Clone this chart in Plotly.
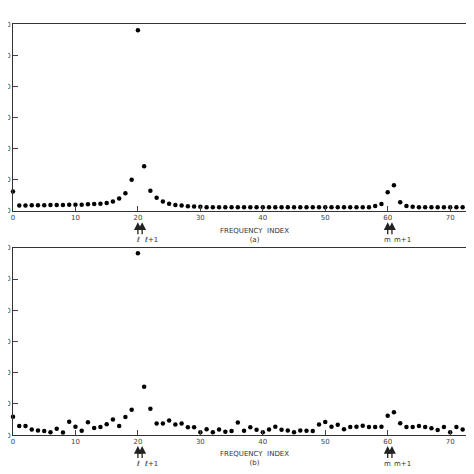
import plotly.graph_objects as go

freq = list(range(0, 75))
top_vals = [62, 17, 17, 18, 18, 18, 19, 19, 19, 20, 20, 20, 21, 22, 23, 25, 30, 40, 57, 100,
            580, 143, 65, 42, 30, 23, 19, 17, 15, 14, 13, 12, 12, 12, 12, 12, 12, 12, 12, 12,
            12, 12, 12, 12, 12, 12, 12, 12, 12, 12, 12, 12, 12, 12, 12, 12, 12, 12, 16, 22,
            60, 82, 28, 16, 13, 12, 12, 12, 12, 12, 12, 12, 12, 12, 12]
bot_vals = [59, 29, 29, 18, 15, 13, 9, 20, 8, 43, 27, 14, 41, 23, 26, 35, 50, 29, 58, 81,
            583, 155, 84, 37, 37, 47, 34, 37, 25, 25, 9, 19, 9, 18, 11, 13, 40, 14, 25, 17,
            9, 18, 27, 17, 15, 9, 15, 14, 13, 34, 42, 27, 33, 19, 26, 27, 30, 26, 26, 27,
            62, 73, 38, 26, 26, 29, 26, 22, 16, 26, 9, 26, 18, 10, 35]
y_ticks = [0, 100, 200, 300, 400, 500, 600]
y_labels = ["0", "100", "200", "300", "400", "500", "600"]

fig = go.Figure()
fig.add_trace(go.Scatter(x=freq, y=top_vals, mode="markers", xaxis="x", yaxis="y",
                         marker=dict(color="black", size=4.5), cliponaxis=False))
fig.add_trace(go.Scatter(x=freq, y=bot_vals, mode="markers", xaxis="x2", yaxis="y2",
                         marker=dict(color="black", size=4.5), cliponaxis=False))

ax = dict(range=[0, 75.1], tickvals=[0, 10, 20, 30, 40, 50, 60, 70], ticks="inside", ticklen=5,
          showline=True, linecolor="#333", linewidth=1, mirror=True, showgrid=False, zeroline=False,
          automargin=False, tickfont=dict(size=7, color="#444", family="DejaVu Sans"))
ay = dict(range=[0, 600], tickvals=y_ticks, ticktext=y_labels, ticks="inside", ticklen=5,
          showline=True, linecolor="#333", linewidth=1, showgrid=False, zeroline=False,
          automargin=False, tickfont=dict(size=7, color="#444", family="DejaVu Sans"))

fig.update_layout(
    width=474, height=474, showlegend=False,
    margin=dict(l=5, r=0, t=0, b=0, pad=0),
    paper_bgcolor="white", plot_bgcolor="white",
    xaxis=dict(ax, domain=[0, 1], anchor="y"),
    yaxis=dict(ay, domain=[0.572, 0.966], anchor="x"),
    xaxis2=dict(ax, domain=[0, 1], anchor="y2"),
    yaxis2=dict(ay, domain=[0.099, 0.494], anchor="x2"),
)

f = dict(size=7, color="#333", family="DejaVu Sans")
marks = [(20, "ℓ"), (21, "ℓ+1"), (60, "m"), (61, "m+1")]
for xr, yp in (("x", 0.548), ("x2", 0.076)):
    for xv, t in marks:
        fig.add_annotation(x=xv, y=yp, xref=xr, yref="paper", text=t, showarrow=True,
                           ax=0, ay=12, arrowhead=2, arrowsize=1.2, arrowwidth=1.3,
                           arrowcolor="#222", font=f, yanchor="top",
                           xanchor="left" if "+" in t else "center",
                           xshift=-2 if "+" in t else 0)
fig.add_annotation(x=0.515, y=0.542, xref="paper", yref="paper", text="FREQUENCY  INDEX<br>(a)",
                   showarrow=False, font=f, yanchor="top")
fig.add_annotation(x=0.515, y=0.072, xref="paper", yref="paper", text="FREQUENCY  INDEX<br>(b)",
                   showarrow=False, font=f, yanchor="top")

fig.write_html("out.html")
